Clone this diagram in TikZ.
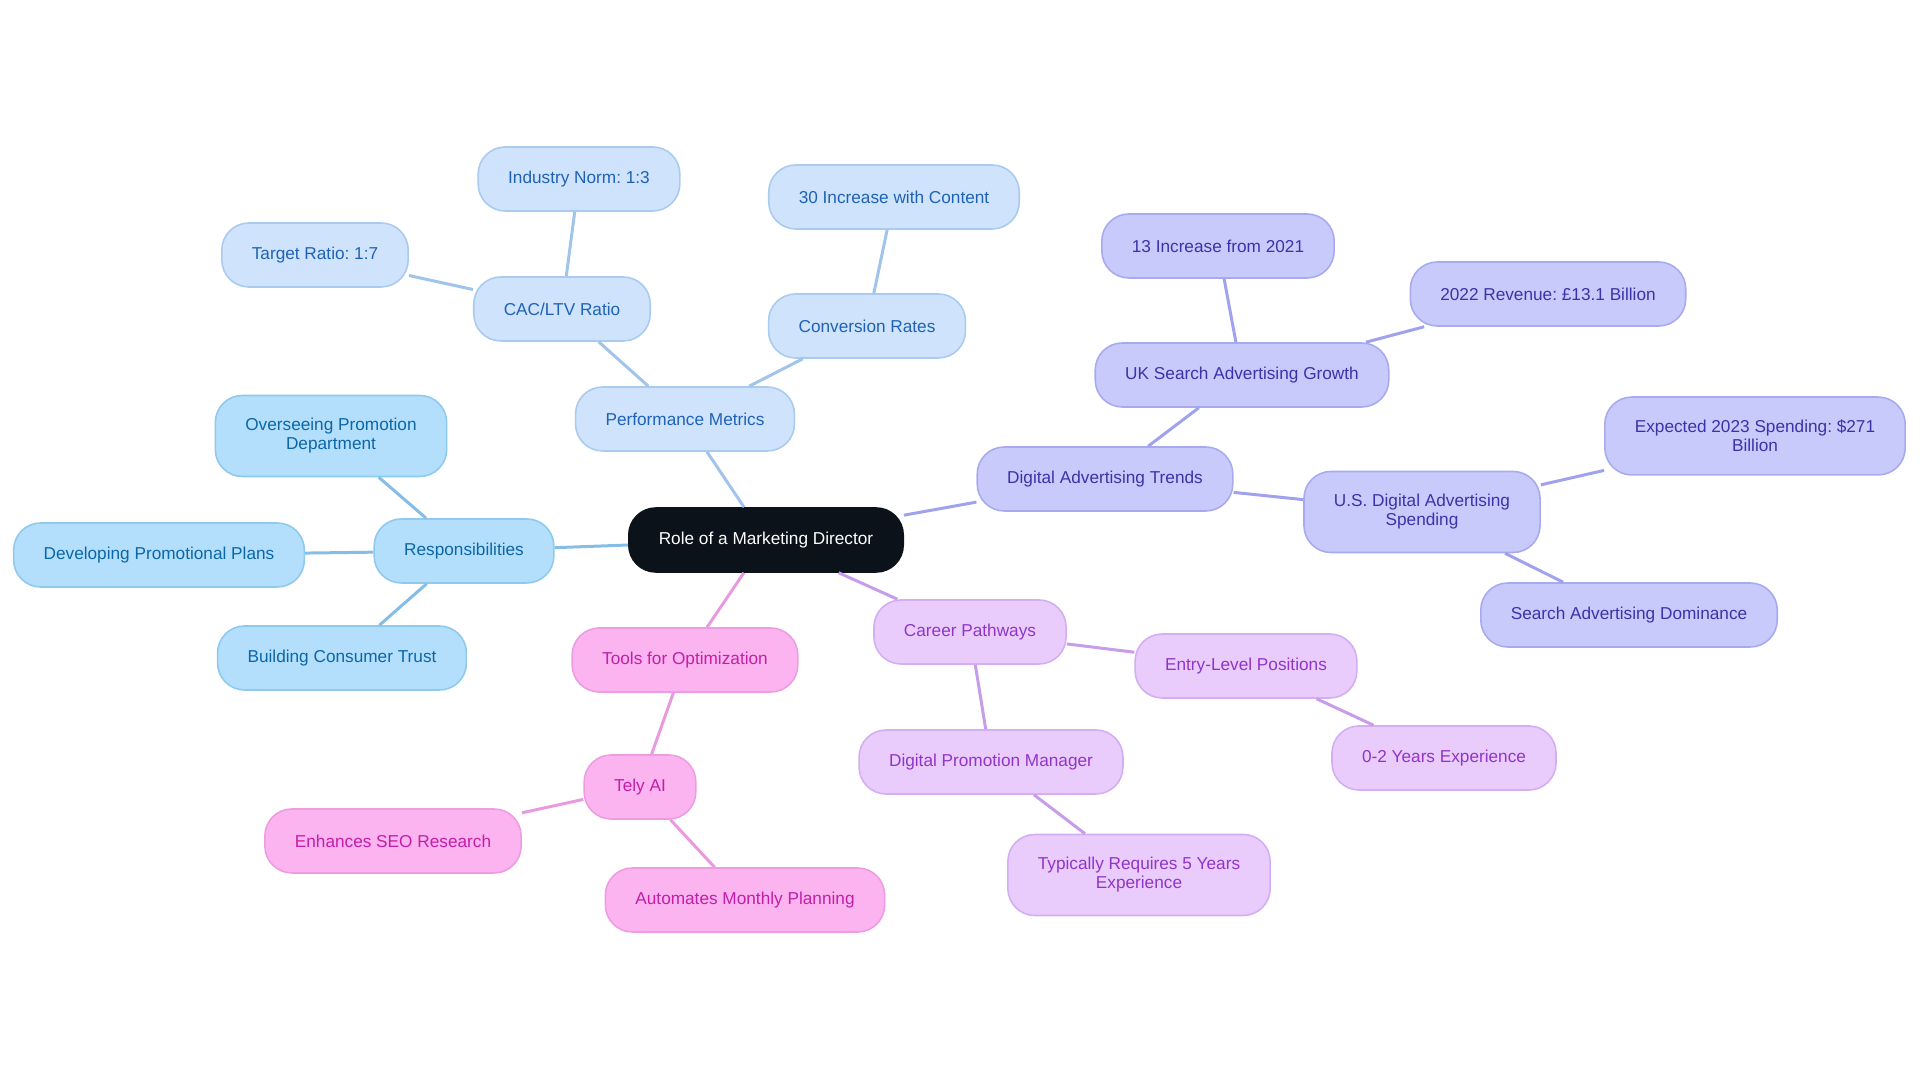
\documentclass[tikz,border=0pt]{standalone}
\usepackage{fontspec}
\setsansfont{Liberation Sans}
\usepackage{xcolor}
\definecolor{rootbg}{HTML}{0C1219}
\definecolor{metricbg}{HTML}{CFE4FC}
\definecolor{metricdraw}{HTML}{A9CBF0}
\definecolor{metrictext}{HTML}{1F62B5}
\definecolor{metricline}{HTML}{A0C4EC}
\definecolor{dutybg}{HTML}{B4DFFC}
\definecolor{dutydraw}{HTML}{8FC9EE}
\definecolor{dutytext}{HTML}{0B67A8}
\definecolor{dutyline}{HTML}{84BEE6}
\definecolor{toolbg}{HTML}{FBB4F0}
\definecolor{tooldraw}{HTML}{EE9CE1}
\definecolor{tooltext}{HTML}{C21FA6}
\definecolor{toolline}{HTML}{E99ADF}
\definecolor{careerbg}{HTML}{E9CCFC}
\definecolor{careerdraw}{HTML}{D3AEF2}
\definecolor{careertext}{HTML}{9035C8}
\definecolor{careerline}{HTML}{C79CEB}
\definecolor{trendbg}{HTML}{C8CAFC}
\definecolor{trenddraw}{HTML}{A8AAF0}
\definecolor{trendtext}{HTML}{3A34A8}
\definecolor{trendline}{HTML}{9FA2EC}

\begin{document}
\frenchspacing
\begin{tikzpicture}[
        font=\sffamily\fontsize{4.9}{5.4}\selectfont,
        idea/.style={
            rectangle,
            rounded corners=0.27cm,
            line width=0.45pt,
            align=center,
            minimum height=0.64cm,
            inner xsep=0.3cm,
            inner ysep=0.23cm
        },
        central/.style={idea, fill=rootbg, draw=rootbg, text=white},
        metric/.style={idea, fill=metricbg, draw=metricdraw, text=metrictext},
        duty/.style={idea, fill=dutybg, draw=dutydraw, text=dutytext},
        tool/.style={idea, fill=toolbg, draw=tooldraw, text=tooltext},
        career/.style={idea, fill=careerbg, draw=careerdraw, text=careertext},
        trend/.style={idea, fill=trendbg, draw=trenddraw, text=trendtext},
        link/.style={line width=0.85pt}
    ]

    \useasboundingbox (0, 0) rectangle (19.2, 10.83);

    % Centre
    \node[central] (root) at (7.66, 5.43) {Role of a Marketing Director};

    % Branch: Performance Metrics
    \node[metric] (perf) at (6.85, 6.64) {Performance Metrics};
    \node[metric] (cac) at (5.62, 7.74) {CAC/LTV Ratio};
    \node[metric] (norm) at (5.79, 9.04) {Industry Norm: 1:3};
    \node[metric] (target) at (3.15, 8.28) {Target Ratio: 1:7};
    \node[metric] (conv) at (8.67, 7.57) {Conversion Rates};
    \node[metric] (incr30) at (8.94, 8.86) {30 Increase with Content};

    % Branch: Responsibilities
    \node[duty] (resp) at (4.64, 5.32) {Responsibilities};
    \node[duty] (oversee) at (3.31, 6.47) {Overseeing Promotion\\Department};
    \node[duty] (develop) at (1.59, 5.28) {Developing Promotional Plans};
    \node[duty] (trust) at (3.42, 4.25) {Building Consumer Trust};

    % Branch: Tools for Optimization
    \node[tool] (tools) at (6.85, 4.23) {Tools for Optimization};
    \node[tool] (tely) at (6.40, 2.96) {Tely AI};
    \node[tool] (seo) at (3.93, 2.42) {Enhances SEO Research};
    \node[tool] (plan) at (7.45, 1.83) {Automates Monthly Planning};

    % Branch: Career Pathways
    \node[career] (path) at (9.70, 4.51) {Career Pathways};
    \node[career] (entry) at (12.46, 4.17) {Entry-Level Positions};
    \node[career] (junior) at (14.44, 3.25) {0-2 Years Experience};
    \node[career] (dpm) at (9.91, 3.21) {Digital Promotion Manager};
    \node[career] (senior) at (11.39, 2.08) {Typically Requires 5 Years\\Experience};

    % Branch: Digital Advertising Trends
    \node[trend] (trends) at (11.05, 6.04) {Digital Advertising Trends};
    \node[trend] (uk) at (12.42, 7.08) {UK Search Advertising Growth};
    \node[trend] (incr13) at (12.18, 8.37) {13 Increase from 2021};
    \node[trend] (rev) at (15.48, 7.89) {2022 Revenue: £13.1 Billion};
    \node[trend] (us) at (14.22, 5.71) {U.S. Digital Advertising\\Spending};
    \node[trend] (expect) at (17.55, 6.47) {Expected 2023 Spending: \$271\\Billion};
    \node[trend] (search) at (16.29, 4.68) {Search Advertising Dominance};

    % Connectors
    \draw[link, metricline] (root) -- (perf);
    \draw[link, metricline] (perf) -- (cac);
    \draw[link, metricline] (cac) -- (norm);
    \draw[link, metricline] (cac) -- (target);
    \draw[link, metricline] (perf) -- (conv);
    \draw[link, metricline] (conv) -- (incr30);

    \draw[link, dutyline] (root) -- (resp);
    \draw[link, dutyline] (resp) -- (oversee);
    \draw[link, dutyline] (resp) -- (develop);
    \draw[link, dutyline] (resp) -- (trust);

    \draw[link, toolline] (root) -- (tools);
    \draw[link, toolline] (tools) -- (tely);
    \draw[link, toolline] (tely) -- (seo);
    \draw[link, toolline] (tely) -- (plan);

    \draw[link, careerline] (root) -- (path);
    \draw[link, careerline] (path) -- (entry);
    \draw[link, careerline] (entry) -- (junior);
    \draw[link, careerline] (path) -- (dpm);
    \draw[link, careerline] (dpm) -- (senior);

    \draw[link, trendline] (root) -- (trends);
    \draw[link, trendline] (trends) -- (uk);
    \draw[link, trendline] (uk) -- (incr13);
    \draw[link, trendline] (uk) -- (rev);
    \draw[link, trendline] (trends) -- (us);
    \draw[link, trendline] (us) -- (expect);
    \draw[link, trendline] (us) -- (search);

\end{tikzpicture}
\end{document}
